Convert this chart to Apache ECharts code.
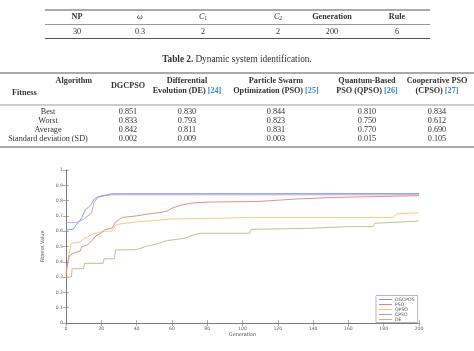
<!DOCTYPE html>
<html>
<head>
<meta charset="utf-8">
<script src="https://cdn.jsdelivr.net/npm/echarts@6/dist/echarts.min.js"></script>
<style>
  html, body { margin: 0; padding: 0; background: #fff; }
  #main { width: 474px; height: 351px; }
</style>
</head>
<body>
<div id="main"></div>
<script>
// 表1 参数
const t1Head = ['NP', 'ω', 'C1', 'C2', 'Generation', 'Rule']
const t1Vals = ['30', '0.3', '2', '2', '200', '6']

// 表2 动态系统辨识
const t2Rows = ['Best', 'Worst', 'Average', 'Standard deviation (SD)']
const t2Dgcpso = ['0.851', '0.833', '0.842', '0.002']
const t2De = ['0.830', '0.793', '0.811', '0.009']
const t2Pso = ['0.844', '0.823', '0.831', '0.003']
const t2Qpso = ['0.810', '0.750', '0.770', '0.015']
const t2Cpso = ['0.834', '0.612', '0.690', '0.105']

// 曲线数据 (代数, 适应度)
const names = ['DGCPOS', 'PSO', 'QPSO', 'CPSO', 'DE']
const dgcpsoGen = [0, 4, 6, 8, 9, 11, 14, 16, 18, 22, 26, 200]
const dgcpsoVal = [0.61, 0.612, 0.645, 0.672, 0.69, 0.74, 0.77, 0.81, 0.825, 0.835, 0.845, 0.846]
const psoGen = [0, 1, 2, 5, 8, 9, 12, 14, 17, 19, 22, 26, 28, 32, 40, 45, 52, 57, 60, 65, 72, 80, 110, 130, 150, 170, 200]
const psoVal = [0.31, 0.40, 0.44, 0.46, 0.47, 0.50, 0.51, 0.53, 0.57, 0.58, 0.61, 0.62, 0.66, 0.69, 0.70, 0.71, 0.72, 0.73, 0.75, 0.77, 0.785, 0.79, 0.795, 0.81, 0.82, 0.825, 0.832]
const qpsoGen = [0, 2, 3, 8, 10, 12, 15, 18, 22, 26, 28, 32, 40, 50, 60, 90, 100, 185, 188, 200]
const qpsoVal = [0.33, 0.47, 0.52, 0.53, 0.55, 0.56, 0.58, 0.59, 0.60, 0.60, 0.64, 0.65, 0.66, 0.67, 0.68, 0.685, 0.69, 0.69, 0.715, 0.72]
const cpsoGen = [0, 6, 8, 10, 13, 14.5, 16, 18, 22, 26, 200]
const cpsoVal = [0.656, 0.656, 0.668, 0.678, 0.705, 0.72, 0.79, 0.822, 0.832, 0.838, 0.838]
const deGen = [0, 3, 3.5, 10, 10.5, 21, 21.5, 27.5, 28, 40, 46, 51, 57, 67, 72, 76, 104, 105, 138, 160, 174, 175, 190, 200]
const deVal = [0.30, 0.30, 0.355, 0.355, 0.39, 0.39, 0.42, 0.42, 0.477, 0.48, 0.503, 0.515, 0.538, 0.553, 0.575, 0.586, 0.586, 0.612, 0.619, 0.63, 0.63, 0.652, 0.66, 0.667]
const colors = ['#7a9bd8', '#e2807f', '#f0c57a', '#c893d6', '#adc283']

const SERIF = 'Liberation Serif'
const dark = '#333'
const FS = 8.2

const pairs = (g, v) => g.map((x, i) => [x, v[i]])

let chart = echarts.init(document.getElementById('main'))

// 表格文字和横线
let graphics = []
const hline = (y, x1, x2, w) => {
  graphics.push({ type: 'line', shape: { x1: x1, y1: y, x2: x2, y2: y }, style: { stroke: '#555', lineWidth: w }, silent: true })
}
const txt = (x, y, text, opt) => {
  opt = opt || {}
  graphics.push({
    type: 'text', x: x, y: y, silent: true,
    style: {
      text: text, fill: opt.fill || dark,
      font: (opt.bold ? 'bold ' : '') + (opt.size || FS) + 'px "' + SERIF + '"',
      align: opt.align || 'center', verticalAlign: 'middle',
      rich: opt.rich
    }
  })
}

// 表1
hline(10, 45, 430, 1)
hline(24.5, 45, 430, 0.6)
hline(38.5, 45, 430, 1.2)
const t1X = [77, 140, 203, 278, 332, 397]
const subRich = {
  i: { font: 'italic ' + FS + 'px "' + SERIF + '"', fill: dark },
  s: { font: '5.5px "' + SERIF + '"', fill: dark, padding: [4, 0, 0, 0] }
}
t1Head.forEach((h, i) => {
  if (h === 'C1' || h === 'C2') {
    txt(t1X[i], 17, '{i|C}{s|' + h[1] + '}', { rich: subRich })
  } else if (h === 'ω') {
    txt(t1X[i], 17, '{i|ω}', { rich: subRich })
  } else {
    txt(t1X[i], 17, h, { bold: true })
  }
  txt(t1X[i], 32, t1Vals[i])
})

// 表2
txt(237, 60, '{b|Table 2.} {n|Dynamic system identification.}', {
  rich: {
    b: { font: 'bold 9.3px "' + SERIF + '"', fill: dark },
    n: { font: '9.3px "' + SERIF + '"', fill: dark }
  }
})
hline(73, 0, 474, 1.2)
hline(105, 0, 474, 0.6)
hline(147, 0, 474, 1.2)
const refRich = {
  b: { font: 'bold ' + FS + 'px "' + SERIF + '"', fill: dark },
  r: { font: 'bold ' + FS + 'px "' + SERIF + '"', fill: '#3d8bc4' }
}
txt(92, 81, 'Algorithm', { bold: true, align: 'right' })
txt(12, 93, 'Fitness', { bold: true, align: 'left' })
txt(128, 86, 'DGCPSO', { bold: true })
txt(187, 81, 'Differential', { bold: true })
txt(187, 91, '{b|Evolution (DE) }{r|[24]}', { rich: refRich })
txt(276, 81, 'Particle Swarm', { bold: true })
txt(276, 91, '{b|Optimization (PSO) }{r|[25]}', { rich: refRich })
txt(367, 81, 'Quantum-Based', { bold: true })
txt(367, 91, '{b|PSO (QPSO) }{r|[26]}', { rich: refRich })
txt(437, 81, 'Cooperative PSO', { bold: true })
txt(437, 91, '{b|(CPSO) }{r|[27]}', { rich: refRich })
const rowY = [111.5, 120.5, 130, 139]
const colX = [128, 187, 276, 367, 437]
const cols = [t2Dgcpso, t2De, t2Pso, t2Qpso, t2Cpso]
t2Rows.forEach((r, i) => {
  txt(48, rowY[i], r)
  cols.forEach((c, j) => txt(colX[j], rowY[i], c[i]))
})

const axisGray = '#777'
const tickLabel = { color: '#666', fontSize: 4.6, fontFamily: 'DejaVu Sans', margin: 3 }

let option = {
  animation: false,
  color: colors,
  grid: { left: 66, right: 55, top: 170, bottom: 28 },
  legend: {
    orient: 'vertical',
    left: 376, top: 295.5,
    data: names,
    icon: 'rect',
    itemWidth: 13, itemHeight: 1,
    itemGap: 0,
    padding: [1.5, 3, 0.5, 3],
    backgroundColor: '#fff',
    borderColor: '#888', borderWidth: 0.6,
    textStyle: { fontSize: 4.6, color: '#555', fontFamily: 'DejaVu Sans', padding: [0, 0, 0, -2] }
  },
  xAxis: [
    {
      type: 'value', min: 0, max: 200, interval: 20,
      name: 'Generation', nameLocation: 'middle', nameGap: 9.5,
      nameTextStyle: { fontSize: 4.9, color: '#555', fontFamily: 'DejaVu Sans' },
      axisLine: { lineStyle: { color: axisGray, width: 0.8 } },
      axisTick: { inside: true, length: 3, lineStyle: { color: axisGray, width: 0.6 } },
      axisLabel: tickLabel,
      splitLine: { show: false }
    },
    {
      type: 'value', min: 0, max: 200, interval: 20, position: 'top',
      axisLine: { show: true, lineStyle: { color: axisGray, width: 0.8 } },
      axisTick: { inside: true, length: 3, lineStyle: { color: axisGray, width: 0.6 } },
      axisLabel: { show: false },
      splitLine: { show: false }
    }
  ],
  yAxis: [
    {
      type: 'value', min: 0, max: 1, interval: 0.1,
      name: 'Fitness Value', nameLocation: 'middle', nameGap: 8,
      nameTextStyle: { fontSize: 4.9, color: '#555', fontFamily: 'DejaVu Sans' },
      axisLine: { show: true, lineStyle: { color: axisGray, width: 0.8 } },
      axisTick: { show: true, inside: true, length: 3, lineStyle: { color: axisGray, width: 0.6 } },
      axisLabel: Object.assign({}, tickLabel, { formatter: v => String(+v.toFixed(1)) }),
      splitLine: { show: false }
    },
    {
      type: 'value', min: 0, max: 1, interval: 0.1, position: 'right',
      axisLine: { show: true, lineStyle: { color: axisGray, width: 0.8 } },
      axisTick: { show: true, inside: true, length: 3, lineStyle: { color: axisGray, width: 0.6 } },
      axisLabel: { show: false },
      splitLine: { show: false }
    }
  ],
  series: [
    [dgcpsoGen, dgcpsoVal], [psoGen, psoVal], [qpsoGen, qpsoVal], [cpsoGen, cpsoVal], [deGen, deVal]
  ].map((s, i) => ({
    name: names[i], type: 'line', showSymbol: false,
    lineStyle: { width: 0.9 },
    data: pairs(s[0], s[1]),
    z: 5 - i
  })),
  graphic: graphics
}
chart.setOption(option)
</script>
</body>
</html>
